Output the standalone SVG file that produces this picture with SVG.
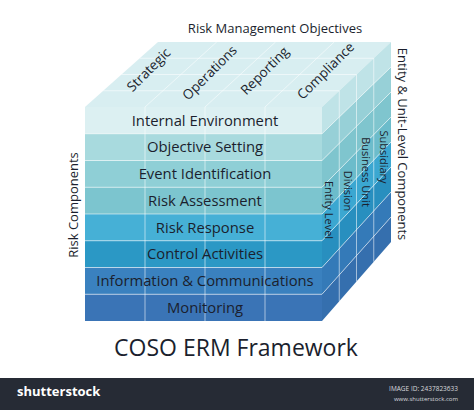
<svg xmlns="http://www.w3.org/2000/svg" width="474" height="410" viewBox="0 0 474 410">
<style>
.t{font-family:"Open Sans","Noto Sans","Liberation Sans",sans-serif;fill:#1b1f2e}
.row{font-size:14.8px;text-anchor:middle}
.top{font-size:13.5px;text-anchor:middle}
.side{font-size:11px;text-anchor:middle}
.ax{font-size:13px;text-anchor:middle}
.g{stroke:#ffffff;stroke-opacity:0.55;stroke-width:1;fill:none}
</style>
<rect width="474" height="410" fill="#ffffff"/>
<g id="top-face">
<polygon points="85,107 322,107 391,42 158,42" fill="#d8eef1"/>
</g>
<g id="front-face">
<rect x="85" y="107" width="237" height="26.75" fill="#dcf0f2"/>
<rect x="85" y="133.75" width="237" height="26.75" fill="#a8dade"/>
<rect x="85" y="160.5" width="237" height="26.75" fill="#8fcfd6"/>
<rect x="85" y="187.25" width="237" height="26.75" fill="#7cc5cf"/>
<rect x="85" y="214" width="237" height="26.75" fill="#46b0d6"/>
<rect x="85" y="240.75" width="237" height="26.75" fill="#2b98c5"/>
<rect x="85" y="267.5" width="237" height="26.75" fill="#3a81bf"/>
<rect x="85" y="294.25" width="237" height="26.75" fill="#3a74b6"/>
</g>
<g id="right-face">
<polygon points="322,107 322,133.75 391,67 391,42" fill="#bfe3e7"/>
<polygon points="322,133.75 322,160.5 391,92 391,67" fill="#97d0d7"/>
<polygon points="322,160.5 322,187.25 391,117 391,92" fill="#7fc5ce"/>
<polygon points="322,187.25 322,214 391,142 391,117" fill="#6cbccb"/>
<polygon points="322,214 322,240.75 391,167 391,142" fill="#3ba7d1"/>
<polygon points="322,240.75 322,267.5 391,192 391,167" fill="#288fbf"/>
<polygon points="322,267.5 322,294.25 391,217 391,192" fill="#347ab8"/>
<polygon points="322,294.25 322,321 391,242 391,217" fill="#356fae"/>
</g>
<g id="grid">
<path class="g" d="M103.25,90.75H339.25M121.5,74.5H356.5M139.75,58.25H373.75M145,107L216.7,42M205,107L275.5,42M265,107L334.2,42"/>
<path class="g" d="M145,107V321M205,107V321M265,107V321M85,133.75H322M85,160.5H322M85,187.25H322M85,214H322M85,240.75H322M85,267.5H322M85,294.25H322"/>
<path class="g" d="M339.25,90.75V301.25M356.5,74.5V281.5M373.75,58.25V261.75M322,133.75L391,67M322,160.5L391,92M322,187.25L391,117M322,214L391,142M322,240.75L391,167M322,267.5L391,192M322,294.25L391,217"/>
</g>
<g id="row-labels">
<text class="t row" x="205" y="125.5">Internal Environment</text>
<text class="t row" x="205" y="152.2">Objective Setting</text>
<text class="t row" x="205" y="179">Event Identification</text>
<text class="t row" x="205" y="205.7">Risk Assessment</text>
<text class="t row" x="205" y="232.5">Risk Response</text>
<text class="t row" x="205" y="259.2">Control Activities</text>
<text class="t row" x="205" y="286">Information &amp; Communications</text>
<text class="t row" x="205" y="312.7">Monitoring</text>
</g>
<g id="objective-labels">
<text class="t top" transform="translate(152,73) rotate(-45)">Strategic</text>
<text class="t top" transform="translate(213,76) rotate(-45)">Operations</text>
<text class="t top" transform="translate(268,74) rotate(-45)">Reporting</text>
<text class="t top" transform="translate(329,74) rotate(-45)">Compliance</text>
</g>
<g id="entity-labels">
<text class="t side" transform="translate(325,210) rotate(90)">Entity Level</text>
<text class="t side" transform="translate(344,191) rotate(90)">Division</text>
<text class="t side" transform="translate(362,172) rotate(90)">Business Unit</text>
<text class="t side" transform="translate(380,157) rotate(90)">Subsidiary</text>
</g>
<g id="axis-labels">
<text class="t ax" x="275" y="33">Risk Management Objectives</text>
<text class="t ax" transform="translate(398,144) rotate(90)">Entity &amp; Unit-Level Components</text>
<text class="t ax" transform="translate(78,205) rotate(-90)">Risk Components</text>
</g>
<g id="title">
<text class="t" x="236" y="356" font-size="23" text-anchor="middle" fill="#111111">COSO ERM Framework</text>
</g>
<g id="banner">
<rect x="0" y="378" width="474" height="32" fill="#262b35"/>
<text x="17" y="396" font-family="'Open Sans','Liberation Sans',sans-serif" font-size="13" font-weight="bold" fill="#ffffff">shutterstock</text>
<text x="458" y="391" font-family="'Open Sans','Liberation Sans',sans-serif" font-size="6.5" fill="#d8dade" text-anchor="end">IMAGE ID: 2437823633</text>
<text x="458" y="401" font-family="'Open Sans','Liberation Sans',sans-serif" font-size="6" fill="#d8dade" text-anchor="end">www.shutterstock.com</text>
</g>
</svg>
